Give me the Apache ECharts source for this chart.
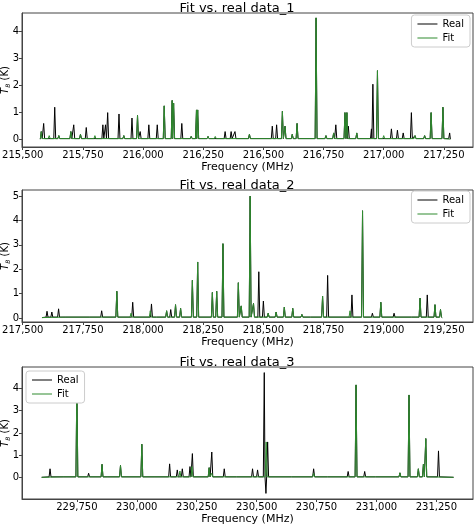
<!DOCTYPE html>
<html><head><meta charset="utf-8">
<script src="https://cdn.jsdelivr.net/npm/echarts@6/dist/echarts.min.js"></script>
<style>html,body{margin:0;padding:0;background:#fff}#c{width:474px;height:526px}</style>
</head><body><div id="c"></div>
<script>
// Panel 1: [frequency MHz, T_B K]
const range1=[215573,217277];
const shared1=[[215577,0.3],[215700,0.3],[215977,0.9],[216088,1.25],[216121,1.45],[216127,1.35],[216222,1.1],[216227,1.1],[216442,0.2],[216579,1.05],[216590,0.5],[216640,0.6],[216719,4.5],[216792,0.25],[216839,1.0],[216847,1.0],[216888,0.25],[216974,2.55],[217197,1.0],[217246,1.2],[215650,0.15],[215740,0.2],[215920,0.15],[216200,0.12],[216270,0.12],[216420,0.1],[216620,0.2],[216760,0.15],[217130,0.15],[217170,0.15]];
const real1=[[215587,0.6],[215633,1.2],[215712,0.55],[215764,0.45],[215833,0.55],[215844,0.55],[215853,1.0],[215900,0.95],[215954,0.8],[215988,0.3],[216024,0.55],[216059,0.55],[216161,0.6],[216341,0.3],[216366,0.3],[216382,0.3],[216537,0.5],[216555,0.55],[216801,0.55],[216853,0.5],[216949,0.4],[216955,2.05],[217032,0.4],[217057,0.35],[217081,0.25],[217115,1.0],[217274,0.25]];
const fit1=[[215610,0.15],[215800,0.15],[216300,0.12],[217000,0.15]];
// Panel 2
const range2=[217580,219243];
const shared2=[[217891,1.1],[218098,0.3],[218135,0.55],[218156,0.4],[218205,1.55],[218227,2.3],[218288,1.05],[218306,1.1],[218332,3.05],[218396,1.45],[218408,0.5],[218445,5.0],[218459,0.6],[218553,0.25],[218587,0.45],[218622,0.4],[218746,0.9],[218912,4.4],[218988,0.65],[219151,0.82],[219213,0.55],[219236,0.35],[217680,0.1],[217780,0.12],[218060,0.1],[218520,0.2],[218660,0.15],[218700,0.12],[219080,0.12],[219120,0.1]];
const real2=[[217601,0.28],[217621,0.25],[217649,0.38],[217828,0.3],[217957,0.65],[218035,0.58],[218115,0.35],[218481,1.9],[218500,0.7],[218767,1.75],[218868,0.95],[218953,0.2],[219043,0.2],[219181,0.95]];
const fit2=[[217950,0.2],[218030,0.3],[218860,0.3]];
// Panel 3
const range3=[229603,231322];
const shared3=[[229750,4.2],[229855,0.6],[229932,0.55],[230021,1.5],[230302,0.45],[230915,4.15],[231098,0.22],[231136,3.7],[231175,0.4],[231196,0.6],[231206,1.75],[229700,0.08],[229880,0.1],[230080,0.12],[230420,0.1],[230650,0.08],[230800,0.1],[231000,0.12]];
const real3=[[229638,0.4],[229799,0.2],[230137,0.62],[230169,0.35],[230190,0.4],[230222,0.5],[230232,1.08],[230313,1.15],[230365,0.4],[230483,0.4],[230504,0.35],[230532,4.7],[230539,-0.7],[230546,1.6],[230738,0.4],[230882,0.28],[230951,0.28],[231259,1.2]];
const fit3=[[230180,0.3],[230230,0.5],[230313,0.2],[230540,1.6],[230738,0.2]];
const xticks1=[215500,215750,216000,216250,216500,216750,217000,217250];
const xticks2=[217500,217750,218000,218250,218500,218750,219000,219250];
const xticks3=[229750,230000,230250,230500,230750,231000,231250];
const yticks1=[0,1,2,3,4], yticks2=[0,1,2,3,4,5], yticks3=[0,1,2,3,4];

function build(range,peaks){
  const p=peaks.slice().sort((a,b)=>a[0]-b[0]);
  const out=[[range[0],0.02]];
  p.forEach(([f,h])=>{out.push([f-4,0.04]);out.push([f,h]);out.push([f+4,0.04]);});
  out.push([range[1],0.02]);
  out.sort((a,b)=>a[0]-b[0]);
  return out;
}
const grids=[{left:22,width:451,top:13,height:134},{left:22,width:451,top:190,height:132},{left:22,width:451,top:367,height:132}];
const xr=[[215497,217371],[217497,219371],[229521,231403]];
const yr=[[-0.27,4.68],[-0.16,5.25],[-0.95,4.95]];
const xt=[xticks1,xticks2,xticks3], yt=[yticks1,yticks2,yticks3];
const fmt=v=>Math.round(v).toLocaleString('en-US');
const txt={color:'#000',fontFamily:'DejaVu Sans'};
const opt={animation:false,title:[],grid:[],xAxis:[],yAxis:[],legend:[],series:[]};
const titles=['Fit vs. real data_1','Fit vs. real data_2','Fit vs. real data_3'];
const titleTop=[-3,174,351];
const legPos=[{right:4,top:15},{right:4,top:191},{left:26,top:371}];
const data=[[range1,shared1,real1,fit1],[range2,shared2,real2,fit2],[range3,shared3,real3,fit3]];
const icon='path://M0,0H20V1H0Z';
for(let i=0;i<3;i++){
  opt.title.push({text:titles[i],left:'center',top:titleTop[i],textStyle:Object.assign({fontSize:13,fontWeight:'normal'},txt)});
  opt.grid.push(Object.assign({show:true,borderColor:'#444',borderWidth:1,outerBoundsMode:'none',containLabel:false},grids[i]));
  opt.xAxis.push({type:'value',gridIndex:i,min:xr[i][0],max:xr[i][1],name:'Frequency (MHz)',nameLocation:'middle',nameGap:15,nameMoveOverlap:false,
    nameTextStyle:Object.assign({fontSize:11},txt),splitLine:{show:false},
    axisLine:{onZero:false,lineStyle:{color:'#444'}},axisTick:{customValues:xt[i],length:3,lineStyle:{color:'#444'}},
    axisLabel:Object.assign({customValues:xt[i],fontSize:10,margin:3,formatter:fmt},txt)});
  opt.yAxis.push({type:'value',gridIndex:i,min:yr[i][0],max:yr[i][1],name:'{i|T}{s|B} (K)',nameLocation:'middle',nameGap:11,nameRotate:90,nameMoveOverlap:false,
    nameTextStyle:Object.assign({fontSize:10,rich:{i:{fontStyle:'italic',fontSize:10,fontFamily:'DejaVu Sans'},s:{fontSize:6,fontStyle:'italic',verticalAlign:'bottom',padding:[5,0,0,0],fontFamily:'DejaVu Sans'}}},txt),
    splitLine:{show:false},axisLine:{show:true,onZero:false,lineStyle:{color:'#444'}},axisTick:{show:true,customValues:yt[i],length:3,lineStyle:{color:'#444'}},
    axisLabel:Object.assign({customValues:yt[i],fontSize:10,margin:3},txt)});
  opt.legend.push(Object.assign({orient:'vertical',backgroundColor:'#fff',borderColor:'#ccc',borderWidth:1,borderRadius:3,padding:[4,6],itemGap:4,itemWidth:20,itemHeight:2,
    textStyle:Object.assign({fontSize:10},txt),data:[{name:'Real',icon:icon},{name:'Fit',icon:icon}]},legPos[i]));
  const [r,s,re,fi]=data[i];
  opt.series.push({name:'Real',type:'line',xAxisIndex:i,yAxisIndex:i,showSymbol:false,data:build(r,s.concat(re)),lineStyle:{color:'#000',width:1},itemStyle:{color:'#000'},z:2});
  opt.series.push({name:'Fit',type:'line',xAxisIndex:i,yAxisIndex:i,showSymbol:false,data:build(r,s.concat(fi)),lineStyle:{color:'#2e8b2e',width:1},itemStyle:{color:'#2e8b2e'},z:3});
}
echarts.init(document.getElementById('c')).setOption(opt);
</script></body></html>
